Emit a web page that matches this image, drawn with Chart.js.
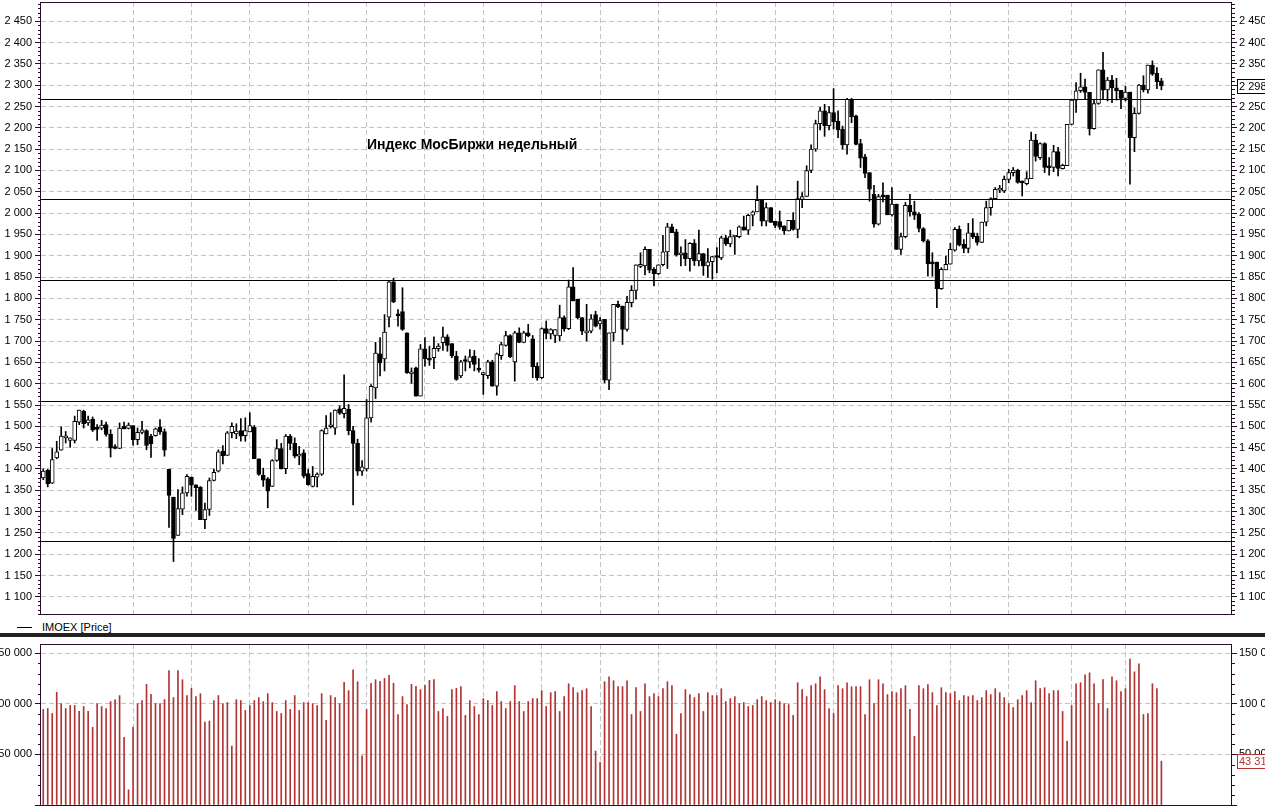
<!DOCTYPE html>
<html lang="ru">
<head>
<meta charset="utf-8">
<title>Индекс МосБиржи недельный</title>
<script src="https://cdn.jsdelivr.net/npm/chart.js@4.4.1/dist/chart.umd.min.js"></script>
<style>
  body { margin: 0; background: #fff; }
  #wrap { position: relative; width: 1265px; height: 807px; overflow: hidden; font-family: "Liberation Sans", Arial, sans-serif; }
  canvas { position: absolute; left: 0; }
  #priceChart { top: 0; }
  #volumeChart { top: 640px; }
  .title { position: absolute; left: 367px; top: 136px; font-weight: bold; font-size: 14px; line-height: 16px; color: #000; white-space: nowrap; }
  .legend { position: absolute; left: 42px; top: 620px; font-size: 11px; line-height: 14px; color: #000; }
  .legend-line { position: absolute; left: 17px; top: 627px; width: 15px; height: 1px; background: #000; }
  .divider { position: absolute; left: 0; top: 633px; width: 1265px; height: 4px; background: #222; }
</style>
</head>
<body>
<div id="wrap">
  <canvas id="priceChart" width="1265" height="616"></canvas>
  <div class="title">Индекс МосБиржи недельный</div>
  <div class="legend-line"></div>
  <div class="legend">IMOEX [Price]</div>
  <div class="divider"></div>
  <canvas id="volumeChart" width="1265" height="167"></canvas>
</div>
<script>
// Weekly IMOEX candles
const opens = [
  1379, 1397, 1367, 1426, 1444, 1473, 1467, 1467, 1510, 1535,
  1508, 1517, 1495, 1496, 1504, 1481, 1450, 1448, 1500, 1495,
  1502, 1469, 1486, 1490, 1477, 1478, 1498, 1488, 1399, 1334,
  1244, 1306, 1344, 1381, 1363, 1357, 1281, 1305, 1373, 1395,
  1442, 1432, 1485, 1482, 1490, 1478, 1487, 1498, 1424, 1385,
  1377, 1359, 1420, 1448, 1401, 1477, 1460, 1430, 1438, 1389,
  1359, 1381, 1388, 1482, 1499, 1496, 1541, 1530, 1540, 1490,
  1460, 1395, 1400, 1520, 1590, 1670, 1658, 1756, 1839, 1763,
  1769, 1719, 1623, 1637, 1571, 1682, 1660, 1661, 1682, 1696,
  1710, 1694, 1665, 1618, 1655, 1651, 1665, 1634, 1621, 1619,
  1651, 1594, 1666, 1690, 1713, 1651, 1719, 1697, 1719, 1705,
  1641, 1614, 1729, 1717, 1713, 1712, 1755, 1729, 1827, 1798,
  1755, 1719, 1723, 1762, 1740, 1751, 1608, 1719, 1786, 1782,
  1727, 1790, 1819, 1875, 1876, 1915, 1868, 1858, 1879, 1909,
  1968, 1956, 1902, 1907, 1893, 1929, 1888, 1905, 1876, 1886,
  1899, 1895, 1942, 1928, 1944, 1945, 1968, 1960, 1995, 2003,
  2030, 1981, 2013, 1981, 1980, 1970, 1958, 1983, 1962, 2032,
  2039, 2100, 2150, 2210, 2240, 2205, 2236, 2216, 2197, 2160,
  2267, 2228, 2163, 2132, 2095, 2044, 1974, 2042, 2042, 1996,
  2021, 1915, 1945, 2018, 2003, 1997, 1964, 1935, 1885, 1885,
  1823, 1867, 1880, 1913, 1962, 1927, 1917, 1954, 1946, 1931,
  1979, 2013, 2034, 2054, 2052, 2079, 2095, 2101, 2073, 2069,
  2081, 2171, 2130, 2163, 2108, 2107, 2144, 2104, 2111, 2208,
  2265, 2287, 2296, 2283, 2198, 2257, 2336, 2289, 2312, 2294,
  2288, 2269, 2284, 2177, 2234, 2300, 2289, 2347, 2328, 2310
];
const highs = [
  1400, 1400, 1448, 1465, 1499, 1488, 1473, 1524, 1538, 1538,
  1524, 1522, 1504, 1514, 1510, 1492, 1457, 1508, 1510, 1508,
  1502, 1496, 1512, 1492, 1481, 1496, 1516, 1494, 1400, 1334,
  1352, 1358, 1387, 1381, 1363, 1359, 1320, 1379, 1400, 1445,
  1455, 1488, 1508, 1506, 1518, 1520, 1532, 1502, 1424, 1402,
  1380, 1422, 1469, 1460, 1481, 1481, 1473, 1453, 1445, 1399,
  1406, 1391, 1492, 1525, 1532, 1539, 1548, 1621, 1551, 1500,
  1470, 1420, 1563, 1598, 1697, 1708, 1762, 1841, 1847, 1774,
  1825, 1719, 1637, 1639, 1692, 1708, 1688, 1710, 1694, 1733,
  1715, 1694, 1676, 1655, 1665, 1680, 1678, 1659, 1627, 1655,
  1655, 1672, 1697, 1723, 1715, 1723, 1731, 1723, 1739, 1713,
  1649, 1731, 1747, 1729, 1727, 1784, 1759, 1843, 1872, 1798,
  1755, 1786, 1762, 1770, 1755, 1751, 1719, 1786, 1794, 1782,
  1805, 1830, 1879, 1907, 1921, 1915, 1872, 1879, 1948, 1976,
  1974, 1962, 1921, 1938, 1931, 1938, 1960, 1905, 1917, 1899,
  1919, 1946, 1948, 1960, 1948, 1970, 1993, 1997, 2005, 2064,
  2030, 2024, 2013, 1981, 2005, 1970, 1983, 2001, 2075, 2048,
  2111, 2160, 2218, 2248, 2255, 2250, 2292, 2240, 2204, 2269,
  2269, 2230, 2173, 2138, 2095, 2065, 2044, 2071, 2042, 2060,
  2021, 1953, 2025, 2044, 2028, 2001, 1966, 1938, 1907, 1885,
  1872, 1899, 1929, 1966, 1970, 1938, 1976, 1987, 1953, 1979,
  2028, 2036, 2060, 2065, 2087, 2103, 2107, 2103, 2075, 2097,
  2190, 2185, 2165, 2165, 2130, 2159, 2154, 2115, 2208, 2265,
  2306, 2328, 2314, 2283, 2267, 2336, 2377, 2318, 2323, 2316,
  2288, 2297, 2284, 2247, 2302, 2322, 2347, 2357, 2341, 2316
];
const lows = [
  1375, 1358, 1366, 1424, 1444, 1461, 1451, 1461, 1504, 1496,
  1502, 1488, 1467, 1492, 1477, 1428, 1447, 1448, 1494, 1494,
  1456, 1457, 1482, 1445, 1427, 1477, 1481, 1430, 1263, 1183,
  1244, 1293, 1336, 1336, 1303, 1281, 1260, 1291, 1372, 1393,
  1412, 1432, 1473, 1471, 1465, 1465, 1487, 1424, 1385, 1359,
  1309, 1359, 1418, 1400, 1389, 1445, 1426, 1410, 1379, 1362,
  1358, 1358, 1385, 1482, 1496, 1481, 1528, 1520, 1480, 1316,
  1385, 1385, 1395, 1510, 1565, 1618, 1630, 1733, 1790, 1735,
  1725, 1624, 1601, 1571, 1571, 1641, 1643, 1635, 1676, 1678,
  1676, 1661, 1608, 1614, 1630, 1637, 1630, 1627, 1575, 1612,
  1594, 1573, 1657, 1688, 1661, 1606, 1696, 1696, 1710, 1614,
  1608, 1612, 1705, 1705, 1696, 1700, 1723, 1727, 1794, 1752,
  1715, 1700, 1719, 1733, 1728, 1602, 1586, 1700, 1778, 1692,
  1723, 1780, 1798, 1872, 1855, 1860, 1829, 1856, 1876, 1870,
  1954, 1899, 1876, 1877, 1864, 1877, 1876, 1854, 1849, 1845,
  1860, 1891, 1924, 1921, 1903, 1942, 1960, 1950, 1970, 2003,
  1970, 1970, 1978, 1966, 1962, 1950, 1958, 1960, 1942, 2013,
  2039, 2095, 2145, 2195, 2180, 2195, 2197, 2177, 2150, 2138,
  2212, 2160, 2107, 2083, 2028, 1967, 1972, 2026, 1996, 1993,
  1915, 1903, 1942, 1993, 1985, 1956, 1932, 1852, 1852, 1778,
  1821, 1867, 1880, 1911, 1923, 1907, 1907, 1940, 1925, 1931,
  1970, 1995, 2034, 2048, 2048, 2071, 2087, 2070, 2040, 2066,
  2081, 2122, 2126, 2095, 2089, 2097, 2087, 2103, 2111, 2207,
  2236, 2283, 2267, 2183, 2197, 2255, 2267, 2263, 2259, 2265,
  2245, 2263, 2068, 2144, 2232, 2284, 2281, 2323, 2292, 2289
];
const closes = [
  1395, 1365, 1422, 1440, 1477, 1476, 1473, 1512, 1538, 1506,
  1515, 1491, 1493, 1503, 1481, 1449, 1448, 1496, 1494, 1503,
  1469, 1486, 1492, 1455, 1459, 1494, 1487, 1444, 1338, 1237,
  1307, 1344, 1383, 1362, 1356, 1281, 1305, 1373, 1392, 1440,
  1431, 1485, 1500, 1489, 1477, 1490, 1502, 1424, 1387, 1374,
  1348, 1420, 1448, 1400, 1477, 1460, 1430, 1435, 1383, 1363,
  1383, 1388, 1490, 1496, 1501, 1538, 1531, 1542, 1490, 1460,
  1395, 1405, 1520, 1594, 1672, 1649, 1721, 1839, 1792, 1759,
  1727, 1626, 1628, 1571, 1682, 1658, 1655, 1683, 1688, 1710,
  1690, 1665, 1610, 1651, 1652, 1663, 1645, 1632, 1626, 1651,
  1594, 1670, 1692, 1713, 1663, 1719, 1697, 1719, 1712, 1640,
  1614, 1729, 1718, 1727, 1727, 1755, 1729, 1827, 1794, 1755,
  1723, 1723, 1752, 1735, 1748, 1608, 1719, 1786, 1780, 1727,
  1791, 1819, 1879, 1879, 1915, 1866, 1858, 1879, 1909, 1968,
  1954, 1902, 1907, 1893, 1929, 1888, 1905, 1876, 1886, 1898,
  1896, 1942, 1928, 1945, 1946, 1968, 1960, 1995, 2003, 2030,
  1981, 2013, 1978, 1971, 1967, 1958, 1983, 1962, 2034, 2039,
  2100, 2150, 2210, 2240, 2205, 2236, 2214, 2195, 2160, 2267,
  2226, 2161, 2129, 2093, 2056, 1974, 2039, 2038, 1996, 2021,
  1915, 1945, 2018, 2003, 1995, 1964, 1935, 1881, 1881, 1823,
  1868, 1880, 1915, 1962, 1925, 1917, 1954, 1945, 1931, 1979,
  2013, 2034, 2056, 2057, 2079, 2095, 2101, 2072, 2071, 2081,
  2171, 2133, 2163, 2107, 2106, 2144, 2105, 2112, 2208, 2265,
  2287, 2296, 2283, 2198, 2257, 2336, 2288, 2312, 2294, 2287,
  2269, 2284, 2177, 2234, 2300, 2289, 2347, 2326, 2308, 2298
];
// Weekly volume, thousands
const volumes = [
  94.5, 95.4, 90.5, 111.4, 100.3, 95.4, 98.4, 98.4, 92.5, 97.4,
  92.5, 76.8, 100.3, 97.4, 95.4, 102.3, 104.2, 108.2, 67.0, 15.0,
  76.8, 100.3, 103.3, 119.3, 109.5, 100.3, 100.3, 104.2, 133.0, 106.2,
  133.0, 123.9, 108.2, 115.4, 107.2, 110.1, 82.0, 83.0, 103.3, 108.2,
  100.3, 101.3, 58.2, 104.2, 103.3, 93.5, 98.4, 103.3, 106.2, 102.3,
  110.1, 101.3, 92.5, 90.5, 103.3, 94.5, 108.2, 93.5, 101.3, 101.3,
  100.3, 98.4, 110.1, 83.7, 108.2, 106.2, 100.3, 121.2, 113.1, 133.7,
  121.9, 48.7, 94.5, 120.3, 123.9, 122.2, 125.2, 128.1, 120.3, 89.5,
  107.2, 99.3, 119.3, 117.3, 114.1, 118.3, 123.2, 123.9, 92.5, 95.4,
  87.6, 114.1, 115.4, 117.0, 88.6, 103.3, 97.4, 89.5, 105.2, 103.3,
  98.4, 112.1, 102.3, 95.4, 102.3, 118.0, 102.3, 92.5, 102.3, 105.2,
  105.2, 113.1, 97.4, 111.1, 112.1, 92.5, 107.2, 119.9, 116.0, 111.1,
  113.1, 115.0, 97.4, 53.3, 42.2, 121.9, 126.8, 122.9, 117.0, 117.0,
  122.9, 89.5, 116.0, 92.5, 119.9, 107.2, 110.1, 107.2, 115.0, 121.9,
  118.0, 70.0, 90.5, 114.1, 109.2, 106.2, 110.1, 92.5, 111.1, 108.2,
  108.2, 115.0, 102.3, 105.2, 107.2, 100.3, 101.3, 97.4, 98.4, 104.2,
  107.2, 103.3, 101.3, 104.2, 102.3, 100.3, 99.3, 88.6, 120.9, 114.1,
  107.2, 118.0, 119.9, 126.8, 114.1, 95.4, 90.5, 118.0, 115.0, 120.9,
  117.0, 117.0, 117.0, 89.5, 123.9, 100.3, 123.9, 119.9, 109.2, 112.1,
  111.1, 115.0, 118.0, 94.5, 68.0, 118.0, 115.0, 119.0, 111.1, 98.4,
  116.0, 111.1, 110.1, 112.1, 103.3, 108.2, 107.2, 108.2, 103.3, 106.2,
  113.1, 109.2, 115.0, 111.1, 106.2, 100.3, 96.4, 104.2, 108.2, 113.1,
  101.3, 122.9, 115.0, 116.0, 110.1, 113.1, 113.1, 92.5, 63.1, 98.4,
  119.9, 120.9, 128.8, 130.7, 119.9, 100.3, 123.9, 95.4, 126.8, 122.9,
  112.1, 115.0, 144.4, 131.7, 139.5, 89.5, 90.5, 119.9, 115.0, 43.31
];
// Horizontal levels drawn across the price panel
const levels = [2268, 2034, 1844, 1560, 1232];
// Weeks that carry a vertical grid line
const gridWeeks = [20, 33, 46, 59, 72, 85, 98, 111, 124, 137, 150, 163, 176, 189, 202, 215, 229, 241];
// Empty weeks to the right of the last candle
const emptyWeeks = 15;
// Axis ranges
const priceRange = { min: 1060, max: 2495, step: 50, minor: 10 };
const volumeRange = { min: 0, max: 159.2, step: 50, minor: 10 };

const axisColor = '#2b0b2b';
const gridColor = '#c4c4c4';
const volumeColor = '#b03434';

Chart.defaults.font.family = '"Liberation Sans", Arial, sans-serif';
Chart.defaults.font.size = 11;
Chart.defaults.color = '#000';

// "2 450" style numbers
const fmt = v => String(Math.round(v)).replace(/\B(?=(\d{3})+(?!\d))/g, ' ');

const labels = opens.map((_, i) => 'W' + (i + 1)).concat(Array(emptyWeeks).fill(''));
const last = opens.length - 1;

// Frame, minor ticks, level lines and last value tag
const panelChrome = {
  id: 'panelChrome',
  afterDatasetsDraw(chart, args, opts) {
    const { ctx, chartArea: a } = chart;
    const y = chart.scales.y;
    ctx.save();
    ctx.lineWidth = 1;

    ctx.strokeStyle = '#000';
    (opts.levels || []).forEach(v => {
      const py = Math.round(y.getPixelForValue(v)) + 0.5;
      ctx.beginPath();
      ctx.moveTo(a.left, py);
      ctx.lineTo(a.right, py);
      ctx.stroke();
    });

    ctx.strokeStyle = axisColor;
    ctx.strokeRect(a.left - 0.5, a.top + 0.5, a.right - a.left + 1, a.bottom - a.top);

    for (let v = Math.ceil(y.min / opts.minor) * opts.minor; v <= y.max; v += opts.minor) {
      if (v % opts.major === 0) continue;
      const py = Math.round(y.getPixelForValue(v)) + 0.5;
      ctx.beginPath();
      ctx.moveTo(a.left - 3, py);
      ctx.lineTo(a.left, py);
      ctx.moveTo(a.right, py);
      ctx.lineTo(a.right + 4, py);
      ctx.stroke();
    }

    const ty = Math.round(y.getPixelForValue(opts.last));
    ctx.fillStyle = '#fff';
    ctx.fillRect(a.right + 6, ty - 7, 40, 14);
    ctx.strokeStyle = opts.tagColor;
    ctx.strokeRect(a.right + 6.5, ty - 6.5, 40, 14);
    ctx.fillStyle = opts.tagColor;
    ctx.font = '11px "Liberation Sans", Arial, sans-serif';
    ctx.textBaseline = 'middle';
    ctx.fillText(opts.tagText, a.right + 8, ty + 1);
    ctx.restore();
  }
};

const xAxis = () => ({
  type: 'category',
  offset: true,
  ticks: { display: false },
  grid: {
    offset: false,
    drawTicks: false,
    color: ctx => gridWeeks.includes(ctx.index) ? gridColor : 'rgba(0,0,0,0)',
  },
  border: { display: false, dash: [5, 3] },
  afterFit: s => { s.height = 0; },
});

const yAxis = (range, position, onArea, fmtTick) => ({
  type: 'linear',
  position,
  min: range.min,
  max: range.max,
  ticks: {
    stepSize: range.step,
    includeBounds: false,
    autoSkip: false,
    padding: position === 'left' ? 3 : 2,
    callback: fmtTick,
  },
  grid: { drawOnChartArea: onArea, color: gridColor, tickColor: axisColor, tickLength: 6 },
  border: { display: false, dash: [5, 3] },
  afterFit: s => {
    s.width = position === 'left' ? 41 : 34;
    // labels sit well inside the panel, no extra room needed
    s.paddingTop = 0;
    s.paddingBottom = 0;
  },
});

const baseOptions = {
  responsive: false,
  animation: false,
  events: [],
  layout: { padding: { top: 2, bottom: 2, left: 0, right: 0 } },
};

// Price panel
const priceTick = v => fmt(v);
new Chart(document.getElementById('priceChart'), {
  type: 'bar',
  data: {
    labels,
    datasets: [
      {
        label: 'IMOEX body',
        data: opens.map((o, i) => [Math.min(o, closes[i]), Math.max(o, closes[i])]),
        backgroundColor: opens.map((o, i) => closes[i] >= o ? '#fff' : '#000'),
        borderColor: '#000',
        borderWidth: 1,
        borderSkipped: false,
        barThickness: 4,
        minBarLength: 2,
        grouped: false,
        order: 0,
      },
      {
        label: 'IMOEX range',
        data: lows.map((l, i) => [l, highs[i]]),
        backgroundColor: '#000',
        barThickness: 1,
        grouped: false,
        order: 1,
      },
    ],
  },
  options: {
    ...baseOptions,
    scales: {
      x: xAxis(),
      y: yAxis(priceRange, 'left', true, priceTick),
      yR: yAxis(priceRange, 'right', false, priceTick),
    },
    plugins: {
      legend: { display: false },
      tooltip: { enabled: false },
      panelChrome: {
        levels,
        minor: priceRange.minor,
        major: priceRange.step,
        last: closes[last],
        tagText: fmt(closes[last]),
        tagColor: '#000',
      },
    },
  },
  plugins: [panelChrome],
});

// Volume panel
const volumeTick = v => v === 0 ? '' : fmt(v * 1000);
new Chart(document.getElementById('volumeChart'), {
  type: 'bar',
  data: {
    labels,
    datasets: [
      {
        label: 'Volume',
        data: volumes,
        backgroundColor: volumeColor,
        barThickness: 1,
      },
    ],
  },
  options: {
    ...baseOptions,
    layout: { padding: { top: 4, bottom: 2, left: 0, right: 0 } },
    scales: {
      x: xAxis(),
      y: yAxis(volumeRange, 'left', true, volumeTick),
      yR: yAxis(volumeRange, 'right', false, volumeTick),
    },
    plugins: {
      legend: { display: false },
      tooltip: { enabled: false },
      panelChrome: {
        levels: [],
        minor: volumeRange.minor,
        major: volumeRange.step,
        last: volumes[last],
        tagText: fmt(volumes[last] * 1000),
        tagColor: volumeColor,
      },
    },
  },
  plugins: [panelChrome],
});
</script>
</body>
</html>
